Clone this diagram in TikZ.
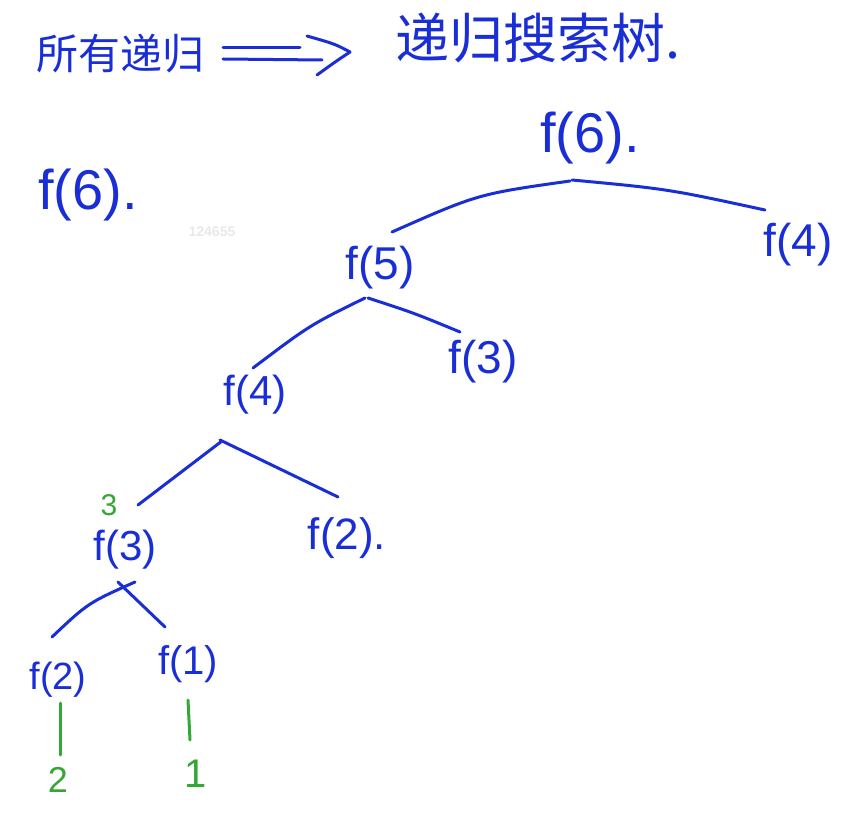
\documentclass[tikz,border=0pt]{standalone}
\usepackage{fontspec}
\setmainfont{Liberation Sans}
\newfontfamily\cjk{Noto Sans CJK SC}
\usetikzlibrary{calc}
\definecolor{hblue}{RGB}{26,46,214}
\definecolor{hgreen}{RGB}{52,168,52}
\definecolor{wmgray}{RGB}{232,232,232}
\begin{document}
\begin{tikzpicture}[x=1pt,y=-1pt,
  lbl/.style={text=hblue,inner sep=0pt,anchor=center},
  glbl/.style={text=hgreen,inner sep=0pt,anchor=center},
  pen/.style={draw=hblue,line width=3pt,line cap=round,line join=round},
  gpen/.style={draw=hgreen,line width=3pt,line cap=round}]
\useasboundingbox (0,0) rectangle (865,826);
% titles
\node[lbl,font=\cjk\fontsize{42}{42}\selectfont] (t1) at (120,54) {所有递归};
\node[lbl,font=\cjk\fontsize{54}{54}\selectfont] (t2) at (538,38) {递归搜索树.};
% double arrow
\coordinate (ua) at (223,48); \coordinate (ub) at (300,48);
\coordinate (la) at (223,59); \coordinate (lb) at (322,60);
\coordinate (ca) at (307,36); \coordinate (ct) at (350,52); \coordinate (cb) at (317,75);
\draw[pen] (ua) -- (ub);
\draw[pen] (la) -- (lb);
\draw[pen] (ca) .. controls (335,44) .. (ct) .. controls (335,62) .. (cb);
% watermark
\node[text=wmgray,inner sep=0pt,font=\bfseries\fontsize{14}{14}\selectfont] (wm) at (212,232) {124655};
% nodes
\node[lbl,font=\fontsize{56}{56}\selectfont] (a) at (590,138) {f(6).};
\node[lbl,font=\fontsize{56}{56}\selectfont] (b) at (88,195) {f(6).};
\node[lbl,font=\fontsize{46}{46}\selectfont] (n5) at (380,268) {f(5)};
\node[lbl,font=\fontsize{46}{46}\selectfont] (n4r) at (798,245) {f(4)};
\node[lbl,font=\fontsize{46}{46}\selectfont] (n3r) at (483,362) {f(3)};
\node[lbl,font=\fontsize{42}{42}\selectfont] (n4) at (255,395) {f(4)};
\node[lbl,font=\fontsize{42}{42}\selectfont] (n3) at (125,550) {f(3)};
\node[lbl,font=\fontsize{44}{44}\selectfont] (n2r) at (347,538) {f(2).};
\node[lbl,font=\fontsize{38}{38}\selectfont] (n2) at (58,680) {f(2)};
\node[lbl,font=\fontsize{40}{40}\selectfont] (n1) at (188,664) {f(1)};
\node[glbl,font=\fontsize{30}{30}\selectfont] (g3) at (109,505) {3};
\node[glbl,font=\fontsize{36}{36}\selectfont] (v2) at (58,780) {2};
\node[glbl,font=\fontsize{40}{40}\selectfont] (v1) at (196,774) {1};
% edges
\draw[pen] ($(a)+(-20,43)$) .. controls (478,194) .. ($(n5)+(12,-36)$);
\draw[pen] ($(a)+(-18,42)$) .. controls (668,189) .. ($(n4r)+(-33,-35)$);
\draw[pen] ($(n5)+(-15,30)$) .. controls (310,325) .. ($(n4)+(-2,-27)$);
\draw[pen] ($(n5)+(-12,30)$) .. controls (414,313) .. ($(n3r)+(-23,-30)$);
\draw[pen] ($(n4)+(-33,46)$) -- ($(n3)+(13,-45)$);
\draw[pen] ($(n4)+(-35,45)$) -- ($(n2r)+(-9,-41)$);
\draw[pen] ($(n3)+(10,32)$) .. controls (88,603) .. ($(n2)+(-6,-43)$);
\draw[pen] ($(n3)+(-7,32)$) -- ($(n1)+(-23,-37)$);
\draw[gpen] ($(n2)+(2,23)$) -- ($(v2)+(2,-25)$);
\draw[gpen] ($(n1)+(0,36)$) -- ($(v1)+(-6,-34)$);
\end{tikzpicture}
\end{document}
